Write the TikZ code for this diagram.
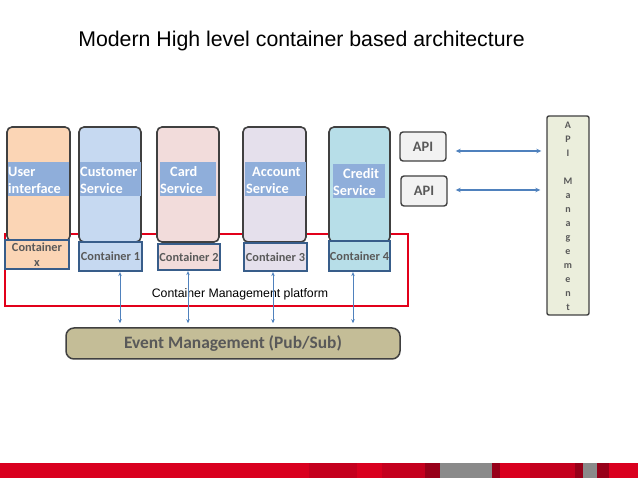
\documentclass[tikz,border=0pt]{standalone}
\usepackage{fontspec}
\setmainfont{Liberation Sans}
\newfontfamily\calfont{Carlito}
\usetikzlibrary{arrows.meta}
\definecolor{colborder}{HTML}{404040}
\definecolor{cntborder}{HTML}{385D8A}
\definecolor{uifill}{HTML}{FBD5B5}
\definecolor{custfill}{HTML}{C6D9F1}
\definecolor{cardfill}{HTML}{F2DCDB}
\definecolor{acctfill}{HTML}{E5E0EC}
\definecolor{credfill}{HTML}{B7DEE8}
\definecolor{bandfill}{HTML}{8FAEDA}
\definecolor{txtgray}{HTML}{595959}
\definecolor{evfill}{HTML}{C4BD97}
\definecolor{apifill}{HTML}{F2F2F2}
\definecolor{apimfill}{HTML}{EBEEDC}
\definecolor{arrblue}{HTML}{4F81BD}
\definecolor{platred}{HTML}{E2001A}
\definecolor{barred}{HTML}{D9001F}
\definecolor{barred2}{HTML}{C4001E}
\definecolor{barred3}{HTML}{970019}
\definecolor{bargray}{HTML}{8A8A8A}
\tikzset{
  colbox/.style={draw=colborder, line width=1.6pt, rounded corners=5pt, inner sep=0pt},
  cntbox/.style={draw=cntborder, line width=1.3pt, inner sep=0pt, font=\calfont\bfseries\fontsize{12.3}{14}\selectfont, text=txtgray, align=center},
  bandbox/.style={fill=bandfill, inner sep=0pt},
  bandtxt/.style={font=\calfont\bfseries\fontsize{14.3}{17}\selectfont, text=white, inner sep=0pt, align=left, anchor=west},
  apibox/.style={draw=colborder, fill=apifill, line width=1.4pt, rounded corners=3pt, inner sep=0pt, minimum width=46pt, font=\calfont\bfseries\fontsize{14.4}{16}\selectfont, text=txtgray},
  harrow/.style={draw=arrblue, line width=1.3pt, {Stealth[length=5pt,width=4.5pt]}-{Stealth[length=5pt,width=4.5pt]}},
  varrow/.style={draw=arrblue, line width=0.7pt, {Stealth[length=4pt,width=3.5pt]}-{Stealth[length=4pt,width=3.5pt]}},
}
\begin{document}
\begin{tikzpicture}[x=1pt,y=-1pt]
\useasboundingbox (0,0) rectangle (638,478);
% title
\node[font=\fontsize{21.3}{25}\selectfont, inner sep=0pt] (title) at (301.5,41) {Modern High level container based architecture};
% platform rectangle
\node[draw=platred, line width=1.5pt, minimum width=403pt, minimum height=72pt, inner sep=0pt] (plat) at (206.5,270) {};
\node[font=\fontsize{12.3}{14}\selectfont, inner sep=0pt] (plattxt) at (240,294) {Container Management platform};
% columns
\node[colbox, fill=uifill, minimum width=63pt, minimum height=114pt] (ui) at (38.5,184) {};
\node[colbox, fill=custfill, minimum width=62pt, minimum height=115pt] (cust) at (110,184.5) {};
\node[colbox, fill=cardfill, minimum width=62pt, minimum height=115pt] (card) at (188,184.5) {};
\node[colbox, fill=acctfill, minimum width=63pt, minimum height=115pt] (acct) at (274.5,184.5) {};
\node[colbox, fill=credfill, minimum width=61pt, minimum height=115pt] (cred) at (359.5,184.5) {};
% bands
\node[bandbox, minimum width=61pt, minimum height=34pt] (uib) at (38.5,179) {};
\node[bandbox, minimum width=61pt, minimum height=34pt] (custb) at (110.5,179) {};
\node[bandbox, minimum width=56pt, minimum height=34pt] (cardb) at (188,179) {};
\node[bandbox, minimum width=61pt, minimum height=34pt] (acctb) at (275.5,179) {};
\node[bandbox, minimum width=52pt, minimum height=34pt] (credb) at (359,181) {};
\node[bandtxt] (uit) at (8,180) {User\\interface};
\node[bandtxt] (custt) at (80,180) {Customer\\Service};
\node[bandtxt] (cardt) at (160,180) {\hspace{10pt}Card\\Service};
\node[bandtxt] (acctt) at (246,180) {\hspace{6pt}Account\\Service};
\node[bandtxt] (credt) at (333,182) {\hspace{10pt}Credit\\Service};
% containers
\node[cntbox, fill=uifill, minimum width=64pt, minimum height=29pt, font=\calfont\bfseries\fontsize{12.3}{15}\selectfont] (cx) at (37,254.5) {Container\\x};
\node[cntbox, fill=custfill, minimum width=63pt, minimum height=29pt] (c1) at (110.5,256.5) {Container 1};
\node[cntbox, fill=cardfill, minimum width=62pt, minimum height=26pt] (c2) at (189,257) {Container 2};
\node[cntbox, fill=acctfill, minimum width=63pt, minimum height=28pt] (c3) at (275.5,257) {Container 3};
\node[cntbox, fill=credfill, minimum width=61pt, minimum height=30pt] (c4) at (359.5,256) {Container 4};
% event management
\node[draw=colborder, fill=evfill, line width=1.5pt, rounded corners=8pt, minimum width=334pt, minimum height=31pt, inner sep=0pt, font=\calfont\bfseries\fontsize{17.4}{19}\selectfont, text=txtgray] (ev) at (233,343.5) {Event Management (Pub/Sub)};
% vertical arrows
\coordinate (v1) at (120,0);
\coordinate (v2) at (188,0);
\coordinate (v3) at (273,0);
\coordinate (v4) at (353,0);
\draw[varrow, shorten <=0.5pt, shorten >=4pt] (c1.south -| v1) -- (ev.north -| v1);
\draw[varrow, shorten <=0.5pt, shorten >=4pt] (c2.south -| v2) -- (ev.north -| v2);
\draw[varrow, shorten <=0.5pt, shorten >=4pt] (c3.south -| v3) -- (ev.north -| v3);
\draw[varrow, shorten <=0.5pt, shorten >=4pt] (c4.south -| v4) -- (ev.north -| v4);
% APIs
\node[apibox, minimum height=29pt] (api1) at (423,146.5) {API};
\node[apibox, minimum height=30pt] (api2) at (424,191) {API};
\node[draw=colborder, fill=apimfill, line width=1.4pt, rounded corners=2pt, minimum width=42pt, minimum height=199pt, inner sep=0pt] (apim) at (568,215.5) {};
\node[font=\calfont\bfseries\fontsize{10}{14}\selectfont, text=txtgray, align=center, inner sep=0pt] (apimt) at (568,216) {A\\P\\I\\[14pt]M\\a\\n\\a\\g\\e\\m\\e\\n\\t};
\coordinate (a1) at ([xshift=9pt,yshift=-4.5pt]api1.east);
\coordinate (a2) at ([xshift=8pt,yshift=1pt]api2.east);
\draw[harrow, shorten >=5pt] (a1) -- (a1 -| apim.west);
\draw[harrow, shorten >=6pt] (a2) -- (a2 -| apim.west);
% bottom bar
\fill[barred] (0,463) rectangle (638,478);
\fill[barred2] (309,463) rectangle (357,478);
\fill[barred2] (382,463) rectangle (425,478);
\fill[barred3] (425,463) rectangle (440,478);
\fill[bargray] (440,463) rectangle (492,478);
\fill[barred3] (492,463) rectangle (500,478);
\fill[barred2] (530,463) rectangle (575,478);
\fill[barred3] (575,463) rectangle (583,478);
\fill[bargray] (583,463) rectangle (597,478);
\fill[barred3] (597,463) rectangle (609,478);
\end{tikzpicture}
\end{document}
